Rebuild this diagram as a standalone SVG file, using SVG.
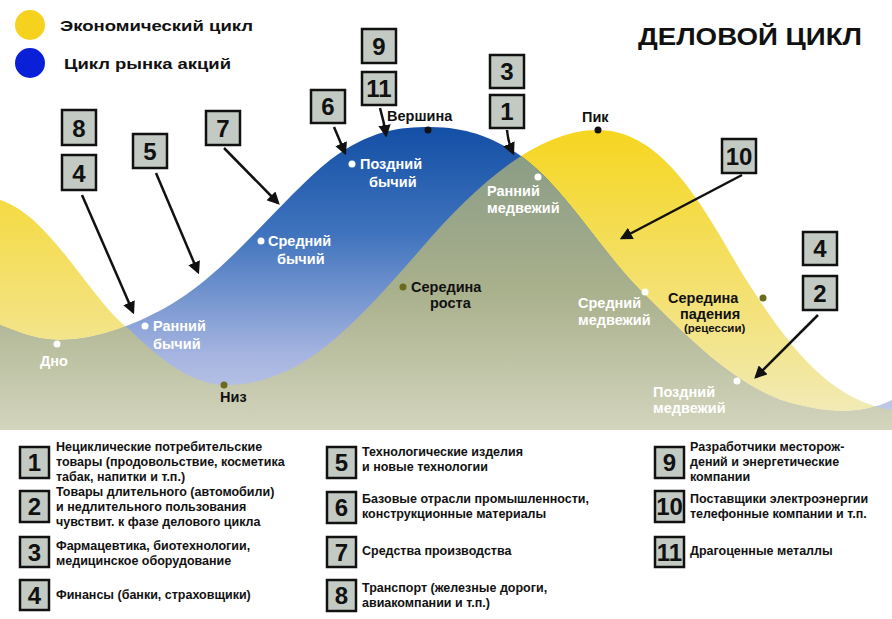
<svg xmlns="http://www.w3.org/2000/svg" width="892" height="619" viewBox="0 0 892 619">
<defs>
<linearGradient id="gy" x1="0" y1="0" x2="0" y2="1" gradientUnits="objectBoundingBox"><stop offset="0" stop-color="#f6d620"/><stop offset="0.6" stop-color="#f3e27a"/><stop offset="1" stop-color="#f1ecc0"/></linearGradient>
<linearGradient id="gb" x1="0" y1="127" x2="0" y2="430" gradientUnits="userSpaceOnUse"><stop offset="0" stop-color="#134fa5"/><stop offset="0.35" stop-color="#3f73bd"/><stop offset="0.75" stop-color="#a5b4e0"/><stop offset="1" stop-color="#c8cfe8"/></linearGradient>
<linearGradient id="gg" x1="0" y1="150" x2="0" y2="430" gradientUnits="userSpaceOnUse"><stop offset="0" stop-color="#8a9c86"/><stop offset="0.5" stop-color="#a9b08c"/><stop offset="1" stop-color="#d3d5bd"/></linearGradient>
<clipPath id="cb"><path d="M0,325 C25,335 40,340 60,340 C100,340 140,322 170,305 C230,270 280,200 330,160 C370,130 400,127 430,127 C470,127 495,140 515,152 C560,180 600,250 640,290 C690,340 730,380 780,400 C830,415 860,415 892,400 L892,430 L0,430Z"/></clipPath>
<marker id="ah" viewBox="0 0 10 10" refX="8" refY="5" markerWidth="5" markerHeight="5" orient="auto"><path d="M0,0 L10,5 L0,10 Z" fill="#111"/></marker>
<style>
.bx{fill:#c3cac3;stroke:#111;stroke-width:2.5}
.bn{font-family:"Liberation Sans",Arial,sans-serif;font-weight:bold;font-size:24px;fill:#111;text-anchor:middle}
.lt{font-family:"Liberation Sans",Arial,sans-serif;font-weight:bold;font-size:12.5px;fill:#111}
.wl{font-family:"Liberation Sans",Arial,sans-serif;font-weight:bold;font-size:14.5px;fill:#fff}
.kl{font-family:"Liberation Sans",Arial,sans-serif;font-weight:bold;font-size:14.5px;fill:#111}
.ar{stroke:#111;stroke-width:2.5;fill:none;marker-end:url(#ah)}
</style>
</defs>
<rect width="892" height="619" fill="#fff"/>
<g id="chart">
<path d="M0,200 C50,215 90,300 130,330 C170,370 200,385 225,385 C300,385 350,330 420,250 C480,180 540,130 598,130 C660,130 700,200 740,270 C790,350 830,400 892,410 L892,430 L0,430 Z" fill="url(#gy)"/>
<path d="M0,325 C25,335 40,340 60,340 C100,340 140,322 170,305 C230,270 280,200 330,160 C370,130 400,127 430,127 C470,127 495,140 515,152 C560,180 600,250 640,290 C690,340 730,380 780,400 C830,415 860,415 892,400 L892,430 L0,430Z" fill="url(#gb)"/>
<path clip-path="url(#cb)" d="M0,200 C50,215 90,300 130,330 C170,370 200,385 225,385 C300,385 350,330 420,250 C480,180 540,130 598,130 C660,130 700,200 740,270 C790,350 830,400 892,410 L892,430 L0,430 Z" fill="url(#gg)"/>
</g>
<g id="legend-top">
<circle cx="30" cy="25" r="15" fill="#f5d21e"/><circle cx="30" cy="63" r="15" fill="#0a1fd8"/>
<text x="60" y="31" class="kl" textLength="193" lengthAdjust="spacingAndGlyphs">Экономический цикл</text>
<text x="64" y="69" class="kl" textLength="167" lengthAdjust="spacingAndGlyphs">Цикл рынка акций</text>
<text x="638" y="45" font-family="Liberation Sans,Arial,sans-serif" font-weight="bold" font-size="24" fill="#111" textLength="224" lengthAdjust="spacingAndGlyphs">ДЕЛОВОЙ ЦИКЛ</text>
</g>
<g id="points">
<circle cx="57" cy="344" r="3.5" fill="#fff"/><text x="40" y="366" class="wl">Дно</text>
<circle cx="145" cy="326" r="3.5" fill="#fff"/><text x="153" y="331" class="wl">Ранний</text><text x="153" y="349" class="wl">бычий</text>
<circle cx="224" cy="385" r="3.5" fill="#6b6a20"/><text x="220" y="402" class="kl">Низ</text>
<circle cx="261" cy="241" r="3.5" fill="#fff"/><text x="268" y="246" class="wl">Средний</text><text x="277" y="264" class="wl">бычий</text>
<circle cx="352" cy="164" r="3.5" fill="#fff"/><text x="360" y="169" class="wl">Поздний</text><text x="369" y="187" class="wl">бычий</text>
<circle cx="428" cy="130" r="3.5" fill="#111"/><text x="387" y="121" class="kl">Вершина</text>
<circle cx="538" cy="177" r="3.5" fill="#fff"/><text x="487" y="196" class="wl">Ранний</text><text x="487" y="213" class="wl">медвежий</text>
<circle cx="598" cy="130" r="3.5" fill="#111"/><text x="582" y="122" class="kl">Пик</text>
<circle cx="403" cy="287" r="3.5" fill="#6b6a20"/><text x="411" y="292" class="kl">Середина</text><text x="430" y="308" class="kl">роста</text>
<circle cx="645" cy="292" r="3.5" fill="#fff"/><text x="578" y="308" class="wl">Средний</text><text x="578" y="325" class="wl">медвежий</text>
<circle cx="763" cy="298" r="3.5" fill="#6b6a20"/><text x="668" y="303" class="kl">Середина</text><text x="680" y="319" class="kl">падения</text>
<text x="684" y="332" font-family="Liberation Sans,Arial,sans-serif" font-weight="bold" font-size="11.5" fill="#111">(рецессии)</text>
<circle cx="737" cy="381" r="3.5" fill="#fff"/><text x="653" y="397" class="wl">Поздний</text><text x="653" y="413" class="wl">медвежий</text>
</g>
<g id="connectors">
<line class="ar" x1="82" y1="195" x2="133" y2="312"/>
<line class="ar" x1="156" y1="173" x2="198" y2="272"/>
<line class="ar" x1="224" y1="148" x2="278" y2="203"/>
<line class="ar" x1="334" y1="127" x2="345" y2="153"/>
<path class="ar" d="M380,108 Q384,122 386,135"/>
<path class="ar" d="M507,130 Q508,142 513,153"/>
<line class="ar" x1="742" y1="175" x2="622" y2="238"/>
<line class="ar" x1="818" y1="315" x2="756" y2="377"/>
</g>
<g id="chart-boxes">
<g id="b8"><rect class="bx" x="62" y="110" width="34" height="35"/><text class="bn" x="79" y="137">8</text></g>
<g id="b4a"><rect class="bx" x="62" y="155" width="34" height="35"/><text class="bn" x="79" y="182">4</text></g>
<g id="b5"><rect class="bx" x="133" y="134" width="34" height="34"/><text class="bn" x="150" y="160">5</text></g>
<g id="b7"><rect class="bx" x="206" y="111" width="34" height="34"/><text class="bn" x="223" y="137">7</text></g>
<g id="b6"><rect class="bx" x="311" y="90" width="34" height="33"/><text class="bn" x="328" y="115">6</text></g>
<g id="b9"><rect class="bx" x="362" y="29" width="34" height="34"/><text class="bn" x="379" y="55">9</text></g>
<g id="b11"><rect class="bx" x="362" y="72" width="34" height="33"/><text class="bn" x="379" y="97">11</text></g>
<g id="b3"><rect class="bx" x="490" y="55" width="34" height="33"/><text class="bn" x="507" y="80">3</text></g>
<g id="b1"><rect class="bx" x="490" y="95" width="34" height="33"/><text class="bn" x="507" y="120">1</text></g>
<g id="b10"><rect class="bx" x="722" y="139" width="34" height="34"/><text class="bn" x="739" y="165">10</text></g>
<g id="b4b"><rect class="bx" x="803" y="232" width="34" height="33"/><text class="bn" x="820" y="257">4</text></g>
<g id="b2"><rect class="bx" x="803" y="276" width="34" height="34"/><text class="bn" x="820" y="302">2</text></g>
</g>
<g id="legend-bottom">
<g id="l1"><rect class="bx" x="20" y="447" width="29" height="31"/><text class="bn" x="34.5" y="471">1</text><text class="lt" x="56" y="451">Нециклические потребительские</text><text class="lt" x="56" y="466">товары (продовольствие, косметика</text><text class="lt" x="56" y="481">табак, напитки и т.п.)</text></g>
<g id="l2"><rect class="bx" x="20" y="491" width="29" height="31"/><text class="bn" x="34.5" y="515">2</text><text class="lt" x="56" y="496">Товары длительного (автомобили)</text><text class="lt" x="56" y="511">и недлительного пользования</text><text class="lt" x="56" y="526">чувствит. к фазе делового цикла</text></g>
<g id="l3"><rect class="bx" x="20" y="537" width="29" height="30"/><text class="bn" x="34.5" y="561">3</text><text class="lt" x="56" y="550">Фармацевтика, биотехнологии,</text><text class="lt" x="56" y="565">медицинское оборудование</text></g>
<g id="l4"><rect class="bx" x="20" y="580" width="29" height="30"/><text class="bn" x="34.5" y="604">4</text><text class="lt" x="56" y="599">Финансы (банки, страховщики)</text></g>
<g id="l5"><rect class="bx" x="327" y="447" width="29" height="31"/><text class="bn" x="341.5" y="471">5</text><text class="lt" x="362" y="456">Технологические изделия</text><text class="lt" x="362" y="471">и новые технологии</text></g>
<g id="l6"><rect class="bx" x="327" y="492" width="29" height="31"/><text class="bn" x="341.5" y="516">6</text><text class="lt" x="362" y="503">Базовые отрасли промышленности,</text><text class="lt" x="362" y="518">конструкционные материалы</text></g>
<g id="l7"><rect class="bx" x="327" y="537" width="29" height="30"/><text class="bn" x="341.5" y="561">7</text><text class="lt" x="362" y="555">Средства производства</text></g>
<g id="l8"><rect class="bx" x="327" y="580" width="29" height="31"/><text class="bn" x="341.5" y="604">8</text><text class="lt" x="362" y="592">Транспорт (железные дороги,</text><text class="lt" x="362" y="607">авиакомпании и т.п.)</text></g>
<g id="l9"><rect class="bx" x="655" y="447" width="29" height="31"/><text class="bn" x="669.5" y="471">9</text><text class="lt" x="690" y="451">Разработчики месторож-</text><text class="lt" x="690" y="466">дений и энергетические</text><text class="lt" x="690" y="481">компании</text></g>
<g id="l10"><rect class="bx" x="655" y="491" width="29" height="31"/><text class="bn" x="669.5" y="515">10</text><text class="lt" x="690" y="503">Поставщики электроэнергии</text><text class="lt" x="690" y="518">телефонные компании и т.п.</text></g>
<g id="l11"><rect class="bx" x="655" y="537" width="29" height="30"/><text class="bn" x="669.5" y="561">11</text><text class="lt" x="690" y="555">Драгоценные металлы</text></g>
</g>
</svg>
